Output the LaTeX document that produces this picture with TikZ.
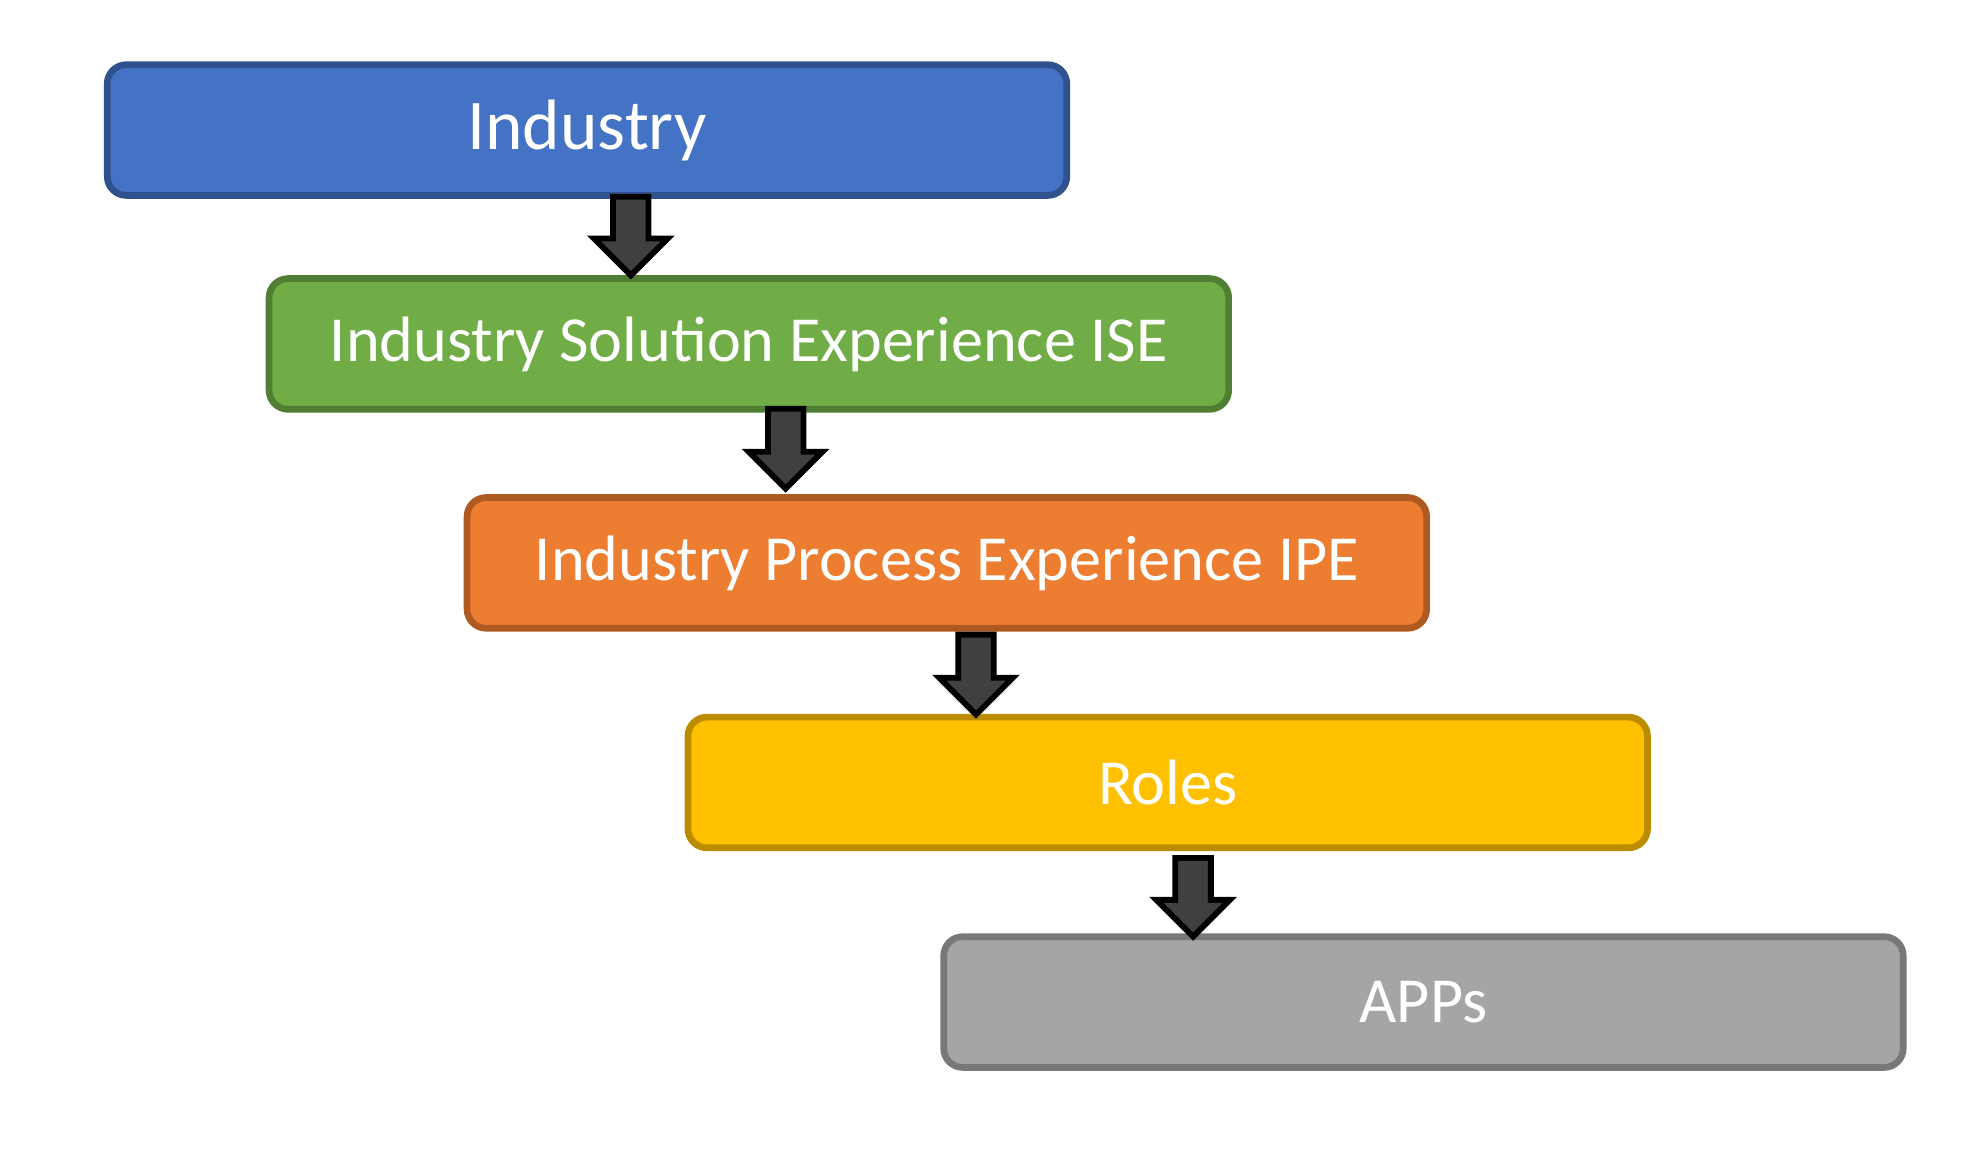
\documentclass[tikz,border=0pt]{standalone}
\usepackage{fontspec}
\setmainfont{Carlito}
\usetikzlibrary{calc}
\definecolor{cb}{HTML}{4472C4}\definecolor{cbd}{HTML}{2F528F}
\definecolor{cg}{HTML}{70AD47}\definecolor{cgd}{HTML}{507E32}
\definecolor{co}{HTML}{ED7D31}\definecolor{cod}{HTML}{AE5A21}
\definecolor{cy}{HTML}{FFC000}\definecolor{cyd}{HTML}{BC8C00}
\definecolor{cgr}{HTML}{A5A5A5}\definecolor{cgrd}{HTML}{787878}
\definecolor{ca}{HTML}{404040}
\tikzset{
 box/.style={draw=#1d, fill=#1, line width=1.5pt, rounded corners=0.15cm, minimum width=7.56cm, minimum height=1.03cm, text=white, inner sep=0pt, font=\fontsize{14.4}{17}\selectfont},
 barrow/.style={draw=black, fill=ca, line width=1.3pt, line join=miter}
}
\newcommand\blockarr[3]{% x, top y, tip y
 \draw[barrow] (#1-0.14,#2) -- (#1+0.14,#2) -- (#1+0.14,#3+0.29) -- (#1+0.29,#3+0.29) -- (#1,#3) -- (#1-0.29,#3+0.29) -- (#1-0.14,#3+0.29) -- cycle;}
\begin{document}
\begin{tikzpicture}
\useasboundingbox (0,0) rectangle (15.6,9.1);
\node[box=cb, font=\fontsize{16}{19}\selectfont] (ind) at (4.625,8.075) {Industry};
\node[box=cg] (ise) at (5.9,6.39) {Industry Solution Experience ISE};
\node[box=co] (ipe) at (7.46,4.665) {Industry Process Experience IPE};
\node[box=cy] (rol) at (9.2,2.935) {Roles};
\node[box=cgr] (app) at (11.215,1.205) {APPs};
\coordinate (a1) at (4.97,0); \coordinate (a2) at (6.19,0);
\coordinate (a3) at (7.69,0); \coordinate (a4) at (9.40,0);
\path let \p1=(a1),\p2=(ind.south),\p3=(ise.north) in \pgfextra{\xdef\xa{\x1}\xdef\ya{\y2}\xdef\yb{\y3}};
\blockarr{4.97}{7.55}{6.93}
\blockarr{6.19}{5.88}{5.25}
\blockarr{7.69}{4.10}{3.47}
\blockarr{9.40}{2.34}{1.72}
\end{tikzpicture}
\end{document}
